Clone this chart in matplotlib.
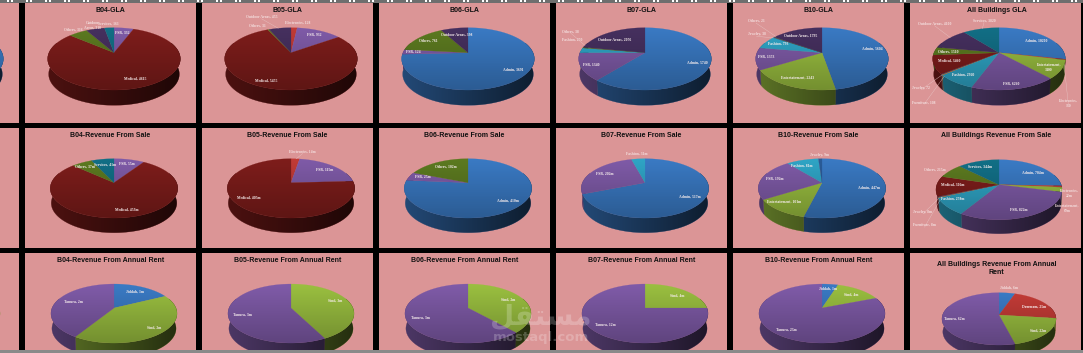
import numpy as np
import matplotlib
matplotlib.use('Agg')
import matplotlib.pyplot as plt
from matplotlib.path import Path
from matplotlib.patches import Rectangle
from matplotlib.colors import to_rgb

W, H = 1083, 353

##### data, values #####
b03_gla_names = ['Admin']
b03_gla_vals = [1000]
b03_rent_names = ['Sind']
b03_rent_vals = [3]

b04_gla_names = ['FSB', 'Medical', 'Others', 'Outdoor\nAreas', 'Services']
b04_gla_vals = [332, 4615, 316, 310, 161]
b05_gla_names = ['Electronics', 'FSB', 'Medical', 'Others', 'Outdoor Areas']
b05_gla_vals = [128, 932, 5455, 31, 455]
b06_gla_names = ['Admin', 'FSB', 'Others', 'Outdoor Areas']
b06_gla_vals = [3691, 124, 761, 398]
b07_gla_names = ['Admin', 'FSB', 'Fashion', 'Others', 'Outdoor Areas']
b07_gla_vals = [5740, 1340, 250, 38, 2076]
b10_gla_names = ['Admin', 'Entertainment', 'FSB', 'Fashion', 'Jewelry', 'Others', 'Outdoor Areas']
b10_gla_vals = [5604, 2243, 1353, 793, 38, 21, 1795]
all_gla_names = ['Admin', 'Electronics', 'Entertainment', 'FSB', 'Fashion', 'Furniture', 'Jewelry',
                 'Medical', 'Others', 'Outdoor Areas', 'Services']
all_gla_vals = [10200, 150, 3400, 6260, 2920, 108, 72, 3460, 1510, 4100, 3820]

b04_sale_names = ['FSB', 'Medical', 'Others', 'Services']
b04_sale_vals = [55, 459, 37, 41]
b05_sale_names = ['Electronics', 'FSB', 'Medical']
b05_sale_vals = [14, 115, 405]
b06_sale_names = ['Admin', 'FSB', 'Others']
b06_sale_vals = [410, 25, 102]
b07_sale_names = ['Admin', 'FSB', 'Fashion']
b07_sale_vals = [517, 202, 31]
b10_sale_names = ['Admin', 'Entertainment', 'FSB', 'Fashion', 'Jewelry']
b10_sale_vals = [447, 101, 192, 81, 9]
all_sale_names = ['Admin', 'Electronics', 'Entertainment', 'FSB', 'Fashion', 'Furniture', 'Jewelry',
                  'Medical', 'Others', 'Services']
all_sale_vals = [704, 22, 69, 822, 258, 8, 8, 302, 215, 344]

b04_rent_names = ['Jiddah', 'Sind', 'Tanura']
b04_rent_vals = [0.9, 2.1, 2.1]
b05_rent_names = ['Sind', 'Tanura']
b05_rent_vals = [2.55, 3.45]
b06_rent_names = ['Sind', 'Tanura']
b06_rent_vals = [1.9, 3.05]
b07_rent_names = ['Sind', 'Tanura']
b07_rent_vals = [4, 12]
b10_rent_names = ['Jiddah', 'Sind', 'Tanura']
b10_rent_vals = [1.4, 4, 23]
all_rent_names = ['Jiddah', 'Dammam', 'Sind', 'Tanura']
all_rent_vals = [6, 25, 22, 62]

##### layout #####
colors = {'Admin': '#3A7AC4', 'Electronics': '#C23B36', 'Entertainment': '#9ABF40', 'FSB': '#7F5BA8',
          'Fashion': '#2FA5C6', 'Furniture': '#D9812E', 'Jewelry': '#2A5C99', 'Medical': '#7E1D1B',
          'Others': '#5C7A20', 'Outdoor Areas': '#46305F', 'Outdoor\nAreas': '#46305F',
          'Services': '#126F86', 'Sind': '#9ABF40', 'Tanura': '#7F5BA8', 'Jiddah': '#3A7AC4',
          'Dammam': '#C23B36'}

col_x = [-152, 25, 202, 379, 556, 733, 910]
col_w = 171
row_y = [3, 128, 253]
row_h = [120, 120, 97]
# apex y in the panel, px above and below the apex, half width, rim depth
row_geom = [(49.7, 25, 37.3, 66.3, 15.3),
            (54.7, 24, 35.3, 63.7, 14.7),
            (55, 24, 35, 63, 15)]
all_sale_geom = (56.7, 25, 35, 63, 14)
all_rent_geom = (62, 22.3, 30, 57, 13)
PINK = '#DB9596'

# (col, row, title, names, vals, suffix, label place as (radius, angle shift), geometry)
charts = [
    (0, 0, '', b03_gla_names, b03_gla_vals, '', None, None),
    (0, 2, '', b03_rent_names, b03_rent_vals, 'm', None, None),
    (1, 0, 'B04-GLA', b04_gla_names, b04_gla_vals, '',
     [(0.8, 0), (0.8, -6), (1.15, 0), (1.2, 0), (1.2, 0)], None),
    (2, 0, 'B05-GLA', b05_gla_names, b05_gla_vals, '',
     [(1.25, 3), (0.8, 0), (0.85, 8), (1.25, -6), (1.68, -9)], None),
    (3, 0, 'B06-GLA', b06_gla_names, b06_gla_vals, '',
     [(0.81, -4), (0.84, 0), (0.8, 0), (0.72, -2)], None),
    (4, 0, 'B07-GLA', b07_gla_names, b07_gla_vals, '',
     [(0.82, 2), (0.85, 0), (1.3, 16), (1.57, 22), (0.69, -8)], None),
    (5, 0, 'B10-GLA', b10_gla_names, b10_gla_vals, '',
     [(0.8, -5), (0.78, 0), (0.84, 2), (0.79, 2), (1.34, -3), (1.85, 11), (0.72, -3)], None),
    (6, 0, 'All Buildings GLA', all_gla_names, all_gla_vals, '',
     [(0.77, 3), (1.5, 45), (0.83, 2), (0.87, 1), (0.81, 2), (1.52, -15), (1.36, -5),
      (0.77, 2), (0.79, -1), (1.71, 13), (1.4, 7)], None),
    (1, 1, 'B04-Revenue From Sale', b04_sale_names, b04_sale_vals, 'm',
     [(0.8, 0), (0.82, -5), (0.81, -4), (0.73, 0)], None),
    (2, 1, 'B05-Revenue From Sale', b05_sale_names, b05_sale_vals, 'm',
     [(1.4, 5), (0.77, 1), (0.79, 8)], None),
    (3, 1, 'B06-Revenue From Sale', b06_sale_names, b06_sale_vals, 'm',
     [(0.8, -2), (0.78, 3), (0.74, 2)], None),
    (4, 1, 'B07-Revenue From Sale', b07_sale_names, b07_sale_vals, 'm',
     [(0.8, 0), (0.76, -1), (1.27, 0)], None),
    (5, 1, 'B10-Revenue From Sale', b10_sale_names, b10_sale_vals, 'm',
     [(0.75, 7), (0.8, 7), (0.78, 0), (0.76, -7), (1.17, 0)], None),
    (6, 1, 'All Buildings Revenue From Sale', all_sale_names, all_sale_vals, 'm',
     [(0.74, 6), (1.12, 11), (1.2, 27), (0.81, 2), (0.82, 8), (1.49, -25), (1.33, -14),
      (0.74, 3), (1.26, -5), (0.76, -4)], all_sale_geom),
    (1, 2, 'B04-Revenue From Annual Rent', b04_rent_names, b04_rent_vals, 'm',
     [(0.75, -2), (0.83, -1), (0.73, 3)], None),
    (2, 2, 'B05-Revenue From Annual Rent', b05_rent_names, b05_rent_vals, 'm',
     [(0.79, -5), (0.79, -3)], None),
    (3, 2, 'B06-Revenue From Annual Rent', b06_rent_names, b06_rent_vals, 'm',
     [(0.76, -4), (0.79, -4)], None),
    (4, 2, 'B07-Revenue From Annual Rent', b07_rent_names, b07_rent_vals, 'm',
     [(0.74, 4), (0.785, 3)], None),
    (5, 2, 'B10-Revenue From Annual Rent', b10_rent_names, b10_rent_vals, 'm',
     [(0.79, -1), (0.735, 1), (0.84, 3)], None),
    (6, 2, 'All Buildings Revenue From Annual\nRent', all_rent_names, all_rent_vals, 'm',
     [(1.3, 0), (0.735, 6), (0.84, 0), (0.79, -2)], all_rent_geom),
]


def shade(c, f):
    return tuple(np.array(to_rgb(c)) * f)


def gradient(ax, path, vertical, a0, a1, ext, z):
    # black overlay with changing alpha, clipped to the given outline
    n = 64
    img = np.zeros((n, 2, 4)) if vertical else np.zeros((2, n, 4))
    ramp = np.linspace(a0, a1, n)
    if vertical:
        img[:, :, 3] = ramp[:, None]
    else:
        img[:, :, 3] = ramp[None, :]
    im = ax.imshow(img, extent=ext, aspect='auto', origin='upper', zorder=z, interpolation='bilinear')
    im.set_clip_path(path, ax.transData)


def draw_pie(ax, names, vals, suffix, places, geom, cx):
    ay, above, below, half, depth = geom
    k = (below - above) / (below + above)
    ry = above * (1 + k)
    rx = half * np.sqrt(1 - k * k)

    def proj(theta, r=1.0, drop=0.0, sx=1.0):
        # theta clockwise from 12 o'clock, in degrees
        t = np.radians(theta)
        u, v = r * np.sin(t), r * np.cos(t)
        return cx + sx * rx * u / (1 + k * v), ay - ry * v / (1 + k * v) + drop

    vals = np.array(vals, dtype=float)
    edges = np.concatenate([[0], np.cumsum(vals) / vals.sum() * 360])

    # rim first, the top face goes over it
    rim_a = np.linspace(70, 290, 120)
    rx1, ry1 = proj(rim_a)
    rx2, ry2 = proj(rim_a, drop=depth, sx=0.985)
    rim_path = Path(np.column_stack([np.r_[rx1, rx2[::-1], rx1[0]], np.r_[ry1, ry2[::-1], ry1[0]]]), closed=True)
    for i, name in enumerate(names):
        a = max(edges[i], 70)
        b = min(edges[i + 1], 290)
        if b <= a:
            continue
        th = np.linspace(a, b, max(int(b - a), 2) + 1)
        x1, y1 = proj(th)
        x2, y2 = proj(th, drop=depth, sx=0.985)
        ax.fill(np.r_[x1, x2[::-1]], np.r_[y1, y2[::-1]], color=shade(colors[name], 0.6),
                lw=0.2, zorder=2)
    gradient(ax, rim_path, False, 0.0, 0.6, (cx - half, cx + half, ay + below + depth, ay - above), 2.2)

    for i, name in enumerate(names):
        th = np.linspace(edges[i], edges[i + 1], max(int(edges[i + 1] - edges[i]), 2) + 1)
        x, y = proj(th)
        ax.fill(np.r_[cx, x], np.r_[ay, y], color=colors[name], lw=0.15, zorder=2.5)
    x, y = proj(np.linspace(0, 360, 181))
    top_path = Path(np.column_stack([x, y]), closed=True)
    gradient(ax, top_path, True, 0.0, 0.25, (cx - half, cx + half, ay + below, ay - above), 3)

    if places is None:
        return
    for i, name in enumerate(names):
        r, shift = places[i]
        mid = (edges[i] + edges[i + 1]) / 2 + shift
        lx, ly = proj(mid, r)
        # long names next to the right edge go on two lines
        sep = ',\n' if lx > col_w - 35 and len(name) > 8 else ', '
        txt = '%s%s%.0f%s' % (name, sep, vals[i], suffix)
        col = '#F7EDED' if r <= 1.05 else '#F4DEDE'
        ax.text(lx, ly, txt, color=col, fontsize=2.7, ha='center', va='center', zorder=5,
                family=['Liberation Serif', 'DejaVu Serif'], fontweight='bold')
        if r > 1.3:
            ex, ey = proj(mid - shift * 0.8, 1.0)
            ax.plot([lx, ex], [ly + 2, ey], color='#E9C9C9', lw=0.25, zorder=4)


fig = plt.figure(figsize=(W / 100, H / 100), dpi=100, facecolor='black')

for col, row, title, names, vals, suffix, places, geom in charts:
    x0, y0, h = col_x[col], row_y[row], row_h[row]
    ax = fig.add_axes([x0 / W, 1 - (y0 + h) / H, col_w / W, h / H])
    ax.set_facecolor(PINK)
    ax.set_xticks([])
    ax.set_yticks([])
    for s in ax.spines.values():
        s.set_visible(False)
    draw_pie(ax, names, vals, suffix, places, geom if geom else row_geom[row], col_w / 2 + 3.5)
    ax.set_xlim(0, col_w)
    ax.set_ylim(h, 0)
    if title:
        ax.text(col_w / 2 + (1 if col == 6 else 0), 7.5 if row < 2 else 8, title, color='#111111', fontsize=5,
                ha='center', va='top' if '\n' in title else 'center',
                family=['Liberation Sans', 'DejaVu Sans'], fontweight='bold', zorder=6, linespacing=1.25)

# panel of the first column in row 1 shows only pink
ax = fig.add_axes([0, 1 - 248 / H, 19 / W, 120 / H])
ax.set_facecolor(PINK)
ax.set_xticks([])
ax.set_yticks([])
for s in ax.spines.values():
    s.set_visible(False)

# ruler on top and grey bar at the bottom
over = fig.add_axes([0, 0, 1, 1], zorder=5)
over.set_xlim(0, W)
over.set_ylim(H, 0)
over.set_axis_off()
over.add_patch(Rectangle((0, 0), W, 3, color='#6E6E6E', lw=0))
over.add_patch(Rectangle((0, 350), W, 3, color='#8A8A8A', lw=0))
for x in range(7, W, 19):
    over.add_patch(Rectangle((x, 0), 2, 2, color='white', lw=0))
    over.add_patch(Rectangle((x + 4, 0), 2, 2, color='white', lw=0))
over.add_patch(Rectangle((1081, 3), 2, 347, color='black', lw=0))

# mostaql watermark
over.text(541, 317, '\ufede\ufed8\ufe98\ufeb4\ufee3', color='white', alpha=0.22, fontsize=20,
          ha='center', va='center', family=['DejaVu Sans'], fontweight='bold')
over.text(541, 338, 'mostaql.com', color='white', alpha=0.22, fontsize=9.5, ha='center', va='center',
          family=['DejaVu Sans'], fontweight='bold')

fig.savefig('out.png', dpi=100, facecolor='black')
